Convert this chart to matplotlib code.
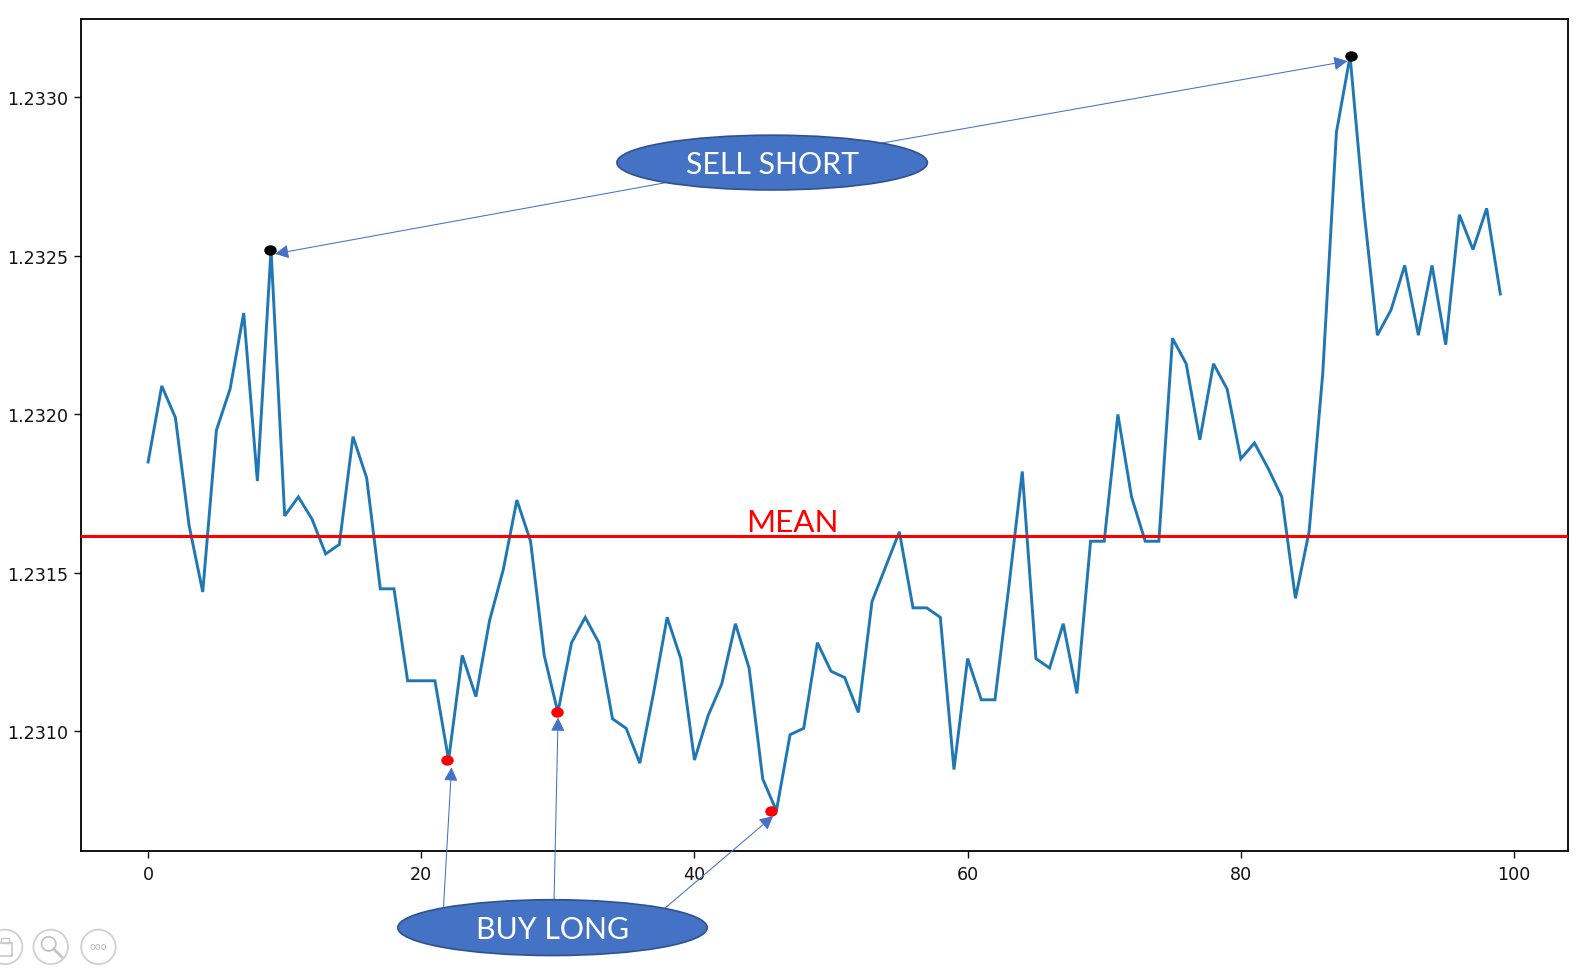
import matplotlib
matplotlib.use("Agg")
import matplotlib.pyplot as plt
from matplotlib.markers import MarkerStyle
from matplotlib.patches import Ellipse, Circle
from matplotlib.transforms import Affine2D, IdentityTransform

W, H, DPI = 1591, 970, 100
S = W / 1568  # layout below is measured on the 1568-wide view

prices = [
    1.23185, 1.23209, 1.23199, 1.23165, 1.23144, 1.23195, 1.23208, 1.23232, 1.23179, 1.23252,
    1.23168, 1.23174, 1.23167, 1.23156, 1.23159, 1.23193, 1.23180, 1.23145, 1.23145, 1.23116,
    1.23116, 1.23116, 1.23091, 1.23124, 1.23111, 1.23135, 1.23151, 1.23173, 1.23160, 1.23124,
    1.23106, 1.23128, 1.23136, 1.23128, 1.23104, 1.23101, 1.23090, 1.23112, 1.23136, 1.23123,
    1.23091, 1.23105, 1.23115, 1.23134, 1.23120, 1.23085, 1.23075, 1.23099, 1.23101, 1.23128,
    1.23119, 1.23117, 1.23106, 1.23141, 1.23152, 1.23163, 1.23139, 1.23139, 1.23136, 1.23088,
    1.23123, 1.23110, 1.23110, 1.23145, 1.23182, 1.23123, 1.23120, 1.23134, 1.23112, 1.23160,
    1.23160, 1.23200, 1.23174, 1.23160, 1.23160, 1.23224, 1.23216, 1.23192, 1.23216, 1.23208,
    1.23186, 1.23191, 1.23183, 1.23174, 1.23142, 1.23163, 1.23213, 1.23289, 1.23313, 1.23265,
    1.23225, 1.23233, 1.23247, 1.23225, 1.23247, 1.23222, 1.23263, 1.23252, 1.23265, 1.23238,
]
mean_level = 1.231617
sell_x = [8.9, 88.1]
sell_y = [1.23252, 1.23313]
buy_x = [21.9, 29.95, 45.6]
buy_y = [1.23091, 1.23106, 1.23075]
x_ticks = [0, 20, 40, 60, 80, 100]
y_ticks = [1.2310, 1.2315, 1.2320, 1.2325, 1.2330]

SHAPE_BLUE = "#4472C4"
SHAPE_EDGE = "#2F528F"
LABEL_FONT = ["Lato", "DejaVu Sans"]
Y_SHIFT = 1.2


def fx(x):
    return x * S


def fy(y):
    return H - (y + Y_SHIFT) * S


fig = plt.figure(figsize=(W / DPI, H / DPI), dpi=DPI)
ax = fig.add_axes([fx(80) / W, fy(838.8) / H, (fx(1545) - fx(80)) / W, (fy(18.3) - fy(838.8)) / H])

ax.plot(range(len(prices)), prices, color="#1f77b4", lw=2.1, solid_joinstyle="miter", zorder=2)
ax.axhline(mean_level, color="red", lw=2.2, zorder=3)

oval = MarkerStyle("o", transform=Affine2D().scale(1.2, 1.0))
ax.plot(sell_x, sell_y, ls="", marker=oval, ms=7.5, color="black", mec="none", zorder=4)
ax.plot(buy_x, buy_y, ls="", marker=oval, ms=7.5, color="red", mec="none", zorder=4)

ax.set_xlim(-4.9, 103.93)
ax.set_ylim(1.230622, 1.233248)
ax.set_xticks(x_ticks)
ax.set_yticks(y_ticks)
ax.set_yticklabels([f"{v:.4f}" for v in y_ticks])
ax.tick_params(labelsize=12.6, length=5, width=1, colors="#111111")
ax.tick_params(axis="x", pad=5)
ax.tick_params(axis="y", pad=4)
for sp in ax.spines.values():
    sp.set_linewidth(1.3)

fig.text(fx(781) / W, fy(514) / H, "MEAN", color="red", fontsize=22.6, family=LABEL_FONT,
         ha="center", va="center", zorder=5)

arrows = [
    ((655, 180), (271, 250)),
    ((868, 141), (1328, 60)),
    ((437, 895), (445, 756)),
    ((546, 889), (550, 707)),
    ((654, 896), (762, 804)),
]
for (x0, y0), (x1, y1) in arrows:
    ax.annotate(
        "", xy=(fx(x1), fy(y1)), xytext=(fx(x0), fy(y0)),
        xycoords="figure pixels", textcoords="figure pixels",
        arrowprops=dict(arrowstyle="-|>,head_length=0.55,head_width=0.28", color=SHAPE_BLUE,
                        lw=0.75, shrinkA=0, shrinkB=0, mutation_scale=15),
        annotation_clip=False, zorder=6,
    )

for cx, cy, w, h, label in [(761, 160, 306, 54, "SELL SHORT"), (544.5, 914, 305, 55, "BUY LONG")]:
    fig.add_artist(Ellipse((fx(cx), fy(cy)), w * S, h * S, transform=IdentityTransform(),
                           fc=SHAPE_BLUE, ec=SHAPE_EDGE, lw=1.2, zorder=10))
    fig.text(fx(cx) / W, fy(cy + 1) / H, label, color="white", fontsize=21.8, family=LABEL_FONT,
             ha="center", va="center", zorder=11)

# faint slide-show controls in the lower-left corner
for cx in [5, 50, 97]:
    fig.add_artist(Circle((fx(cx), fy(933)), 17 * S, transform=IdentityTransform(),
                          fc="white", ec="#D0D0D0", lw=1.3, zorder=10))
fig.text(fx(97) / W, fy(932) / H, "ooo", color="#BBBBBB", fontsize=7, ha="center", va="center", zorder=11)
fig.add_artist(Circle((fx(48), fy(930)), 7 * S, transform=IdentityTransform(),
                      fc="none", ec="#C4C4C4", lw=1.3, zorder=11))
fig.add_artist(plt.Line2D([fx(53), fx(61)], [fy(935), fy(943)], transform=IdentityTransform(),
                          color="#C4C4C4", lw=2, zorder=11))
fig.add_artist(plt.Rectangle((fx(-1), fy(942)), 13 * S, 13 * S, transform=IdentityTransform(),
                             fc="none", ec="#C8C8C8", lw=1.2, zorder=11))
fig.add_artist(plt.Rectangle((fx(1), fy(929)), 8 * S, 5 * S, transform=IdentityTransform(),
                             fc="none", ec="#C8C8C8", lw=1.0, zorder=11))

fig.savefig("out.png", dpi=DPI)
